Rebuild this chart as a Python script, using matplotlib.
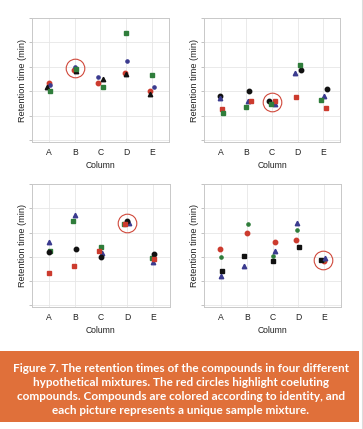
import matplotlib
matplotlib.use("Agg")
import matplotlib.pyplot as plt
from matplotlib.patches import Rectangle
from matplotlib.lines import Line2D

plt.rcParams["font.family"] = ["Liberation Sans", "DejaVu Sans"]

columns = ["A", "B", "C", "D", "E"]

# ─── Data (retention time, min) and horizontal jitter (column units) ─────────
# panel 1: top-left
p1_red = [2.34, 2.89, 2.34, 2.75, 2.03]
p1_red_dx = [0.00, -0.04, -0.09, -0.05, -0.06]
p1_blue = [2.25, 3.01, 2.59, 3.23, 2.18]
p1_blue_dx = [0.03, 0.00, -0.08, 0.01, 0.09]
p1_black = [2.16, 2.85, 2.52, 2.73, 1.88]
p1_black_dx = [-0.06, 0.05, 0.08, 0.00, -0.06]
p1_green = [2.00, 2.93, 2.18, 4.37, 2.66]
p1_green_dx = [0.05, 0.05, 0.08, 0.00, 0.01]

# panel 2: top-right
p2_black = [1.82, 2.01, 1.60, 2.86, 2.08]
p2_black_dx = [-0.03, 0.10, -0.13, 0.13, 0.17]
p2_blue = [1.71, 1.59, 1.47, 2.75, 1.81]
p2_blue_dx = [-0.05, 0.08, 0.12, -0.09, 0.03]
p2_red = [1.27, 1.59, 1.60, 1.79, 1.30]
p2_red_dx = [0.03, 0.16, 0.13, -0.05, 0.10]
p2_green = [1.11, 1.37, 1.49, 3.07, 1.64]
p2_green_dx = [0.09, 0.00, -0.03, 0.08, -0.10]

# panel 3: bottom-left
p3_blue = [2.60, 3.73, 2.14, 3.41, 1.79]
p3_blue_dx = [0.00, 0.00, 0.05, 0.08, 0.01]
p3_green = [2.22, 3.47, 2.42, 3.37, 1.96]
p3_green_dx = [0.03, -0.09, 0.00, -0.10, -0.03]
p3_black = [2.18, 2.33, 1.99, 3.49, 2.11]
p3_black_dx = [-0.01, 0.04, 0.00, 0.01, 0.03]
p3_red = [1.32, 1.64, 2.25, 3.34, 1.90]
p3_red_dx = [-0.01, -0.04, -0.08, -0.09, 0.06]

# panel 4: bottom-right
p4_red = [2.32, 3.00, 2.59, 2.71, 1.84]
p4_red_dx = [-0.03, 0.00, 0.08, -0.10, 0.00]
p4_green = [2.01, 3.37, 2.03, 3.10, 1.88]
p4_green_dx = [0.00, 0.05, 0.00, -0.06, -0.04]
p4_black = [1.40, 2.05, 1.81, 2.40, 1.88]
p4_black_dx = [0.04, -0.10, 0.00, 0.03, -0.10]
p4_blue = [1.22, 1.60, 2.25, 3.38, 1.93]
p4_blue_dx = [0.01, -0.12, 0.08, -0.06, 0.03]

# coeluting highlights: (column index, retention time)
highlight_col = [1, 2, 3, 4]
highlight_dx = [0.0, 0.01, 0.0, -0.03]
highlight_y = [2.95, 1.55, 3.40, 1.86]

caption = ("Figure 7. The retention times of the compounds in four different\n"
           "hypothetical mixtures. The red circles highlight coeluting\n"
           "compounds. Compounds are colored according to identity, and\n"
           "each picture represents a unique sample mixture.")

RED = "#cc3b2e"
BLUE = "#3b3b8f"
GREEN = "#2f7d3b"
BLACK = "#111111"

# marker styles per size class (pt)
STYLE = {
    "circle": dict(marker="o", ms=3.2),
    "dot": dict(marker="o", ms=2.3),
    "square": dict(marker="s", ms=3.0),
    "small_sq": dict(marker="s", ms=2.2),
    "tri": dict(marker="^", ms=3.2),
}

panels = [
    [(p1_red, p1_red_dx, RED, "circle"), (p1_blue, p1_blue_dx, BLUE, "dot"),
     (p1_black, p1_black_dx, BLACK, "tri"), (p1_green, p1_green_dx, GREEN, "square")],
    [(p2_black, p2_black_dx, BLACK, "circle"), (p2_blue, p2_blue_dx, BLUE, "tri"),
     (p2_red, p2_red_dx, RED, "small_sq"), (p2_green, p2_green_dx, GREEN, "square")],
    [(p3_blue, p3_blue_dx, BLUE, "tri"), (p3_green, p3_green_dx, GREEN, "square"),
     (p3_black, p3_black_dx, BLACK, "circle"), (p3_red, p3_red_dx, RED, "small_sq")],
    [(p4_red, p4_red_dx, RED, "circle"), (p4_green, p4_green_dx, GREEN, "dot"),
     (p4_black, p4_black_dx, BLACK, "square"), (p4_blue, p4_blue_dx, BLUE, "tri")],
]

W, H = 363, 429
fig = plt.figure(figsize=(W / 100, H / 100), dpi=100, facecolor="white")

# axes boxes in pixels: (left, top, right, bottom)
boxes = [(32, 18, 169, 142), (204, 18, 340, 142),
         (32, 184, 170, 307), (204, 184, 341, 307)]

for i, (series, box) in enumerate(zip(panels, boxes)):
    l, t, r, b = box
    ax = fig.add_axes([l / W, 1 - b / H, (r - l) / W, (b - t) / H])
    ax.set_xlim(0.34, 5.66)
    ax.set_ylim(-0.07, 5)
    ax.set_xticks(range(1, 6))
    ax.set_xticklabels(columns)
    ax.set_yticks(range(0, 6))
    ax.set_yticklabels([])
    ax.grid(True, color="#e6e6e6", linewidth=0.6)
    ax.set_axisbelow(True)
    for s in ax.spines.values():
        s.set_color("#c8c8c8")
        s.set_linewidth(0.7)
    ax.tick_params(axis="x", length=0, labelsize=6.2, pad=4, colors="#222222")
    ax.tick_params(axis="y", length=2, width=0.5, color="#aaaaaa")

    for vals, dx, col, kind in series:
        xs = [k + 1 + d for k, d in enumerate(dx)]
        ax.plot(xs, vals, ls="none", color=col, mec=col, **STYLE[kind])

    ax.plot(highlight_col[i] + 1 + highlight_dx[i], highlight_y[i], "o",
            ms=13.4, mfc="none", mec="#d0493c", mew=0.8)

    ax.set_xlabel("Column", fontsize=6.2, labelpad=3, color="#222222")
    ax.set_ylabel("Retention time (min)", fontsize=6.6, color="#222222")
    ax.yaxis.set_label_coords(-0.034, 0.5)

# right page border
fig.add_artist(Line2D([361.5 / W, 361.5 / W], [0, 1], color="#dcdcdc", lw=0.8))

# caption box
fig.add_artist(Rectangle((0, 1 - 422 / H), 359 / W, 71 / H,
                         transform=fig.transFigure, facecolor="#e0703a",
                         edgecolor="none"))
fig.text(181 / W, 1 - 389.5 / H, caption, ha="center", va="center",
         color="white", fontsize=8.5, fontweight="bold", family="Lato",
         linespacing=1.32)

fig.savefig("out.png", dpi=100, facecolor="white")
